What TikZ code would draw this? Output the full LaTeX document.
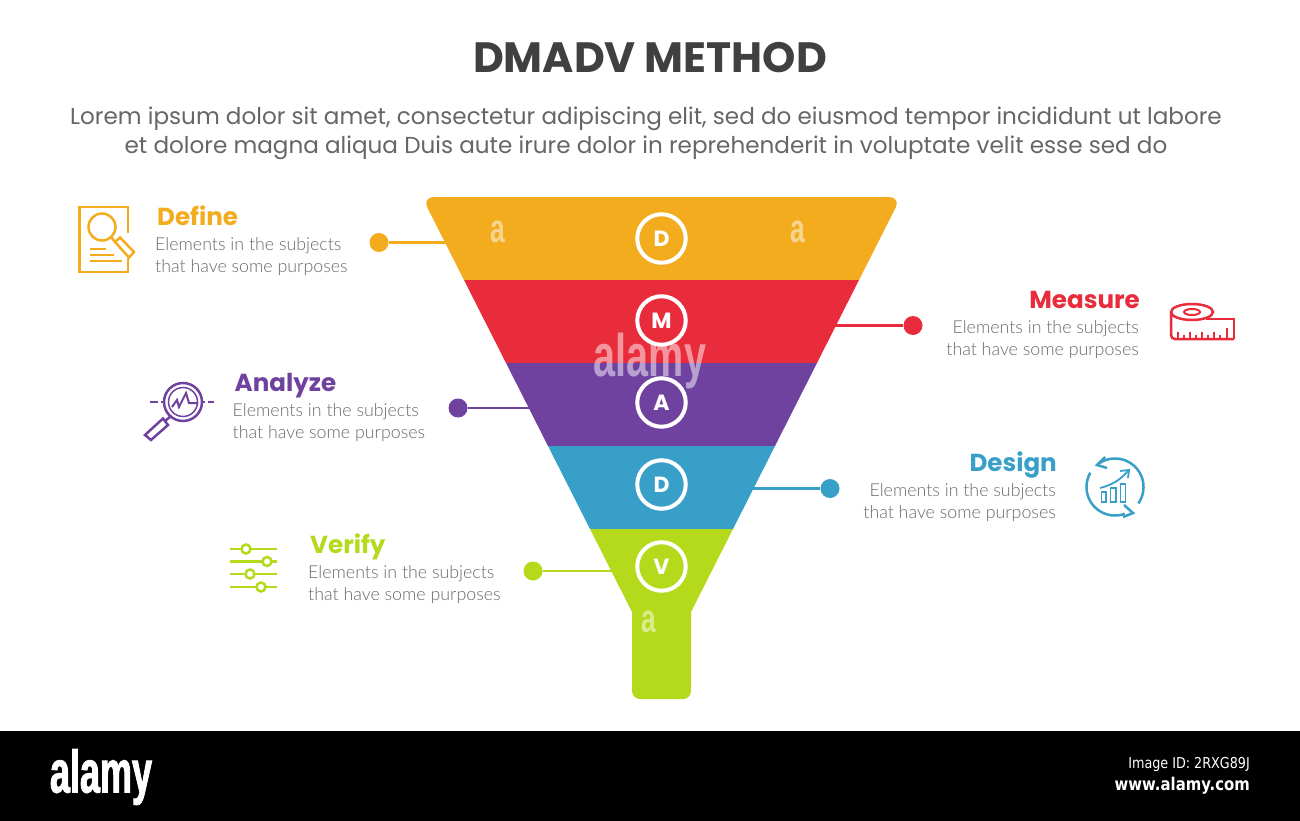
\documentclass[tikz,border=0pt]{standalone}
\usepackage{fontspec}
\usepackage{tikz}
\usetikzlibrary{positioning}
\setmainfont{Lato Light}
\newfontfamily\headfont{Poppins}
\newfontfamily\logofont[FakeStretch=0.6,FakeBold=1.5]{Liberation Sans}
\newfontfamily\markfont[FakeStretch=0.66]{Liberation Sans}
\newfontfamily\footfont[FakeStretch=0.85]{DejaVu Sans}
\definecolor{cdefine}{HTML}{F2AC1D}
\definecolor{cmeasure}{HTML}{E92C3B}
\definecolor{canalyze}{HTML}{6F42A0}
\definecolor{cdesign}{HTML}{389FC9}
\definecolor{cverify}{HTML}{B5D91B}
\definecolor{cdesc}{HTML}{6A6A6A}
\tikzstyle{lettercircle} = [circle, draw=white, line width=4pt, minimum size=48.5pt, inner sep=0pt, text=white, font=\headfont\bfseries\fontsize{22}{22}\selectfont]
\tikzstyle{dotnode} = [circle, minimum size=19pt, inner sep=0pt]
\tikzstyle{connector} = [line width=2.5pt]
\tikzstyle{headnode} = [inner sep=0pt, text height=17pt, text depth=5pt, font=\headfont\bfseries\fontsize{24.6}{24.6}\selectfont]
\tikzstyle{descnode} = [inner sep=0pt, text=cdesc, font=\fontsize{17.8}{22}\selectfont]
\tikzstyle{icon} = [line width=2.5pt]
\tikzstyle{stockmark} = [text=white, opacity=0.5, font=\markfont\bfseries\fontsize{40}{40}\selectfont]

\begin{document}
\begin{tikzpicture}[x=1pt, y=-1pt, node distance=29.5pt]
	\useasboundingbox (0,0) rectangle (1300,821);
	\fill[white] (0,0) rectangle (1300,821);
	\fill[black] (0,731) rectangle (1300,821);

	\node[text=black!75, font=\headfont\fontsize{42.4}{42.4}\selectfont\bfseries] (title) at (650,58) {DMADV METHOD};
	\node[align=center, text=black!60, font=\headfont\fontsize{23.1}{29}\selectfont] (intro) at (646,133.5) {Lorem ipsum dolor sit amet, consectetur adipiscing elit, sed do eiusmod tempor incididunt ut labore\\et dolore magna aliqua Duis aute irure dolor in reprehenderit in voluptate velit esse sed do};

	\node[dotnode, fill=cdefine]  (dot define)  at (379,242.5) {};
	\node[dotnode, fill=cmeasure] (dot measure) at (913,325.5) {};
	\node[dotnode, fill=canalyze] (dot analyze) at (458,408) {};
	\node[dotnode, fill=cdesign]  (dot design)  at (830,488.5) {};
	\node[dotnode, fill=cverify]  (dot verify)  at (533,571) {};
	\coordinate (edge define)  at (450,242.5);
	\coordinate (edge measure) at (830,325.5);
	\coordinate (edge analyze) at (535,408);
	\coordinate (edge design)  at (750,488.5);
	\coordinate (edge verify)  at (615,571);

	\draw[connector, cdefine]  (dot define)  -- (edge define);
	\draw[connector, cmeasure] (dot measure) -- (edge measure);
	\draw[connector, canalyze] (dot analyze) -- (edge analyze);
	\draw[connector, cdesign]  (dot design)  -- (edge design);
	\draw[connector, cverify]  (dot verify)  -- (edge verify);

	\fill[cdefine] (464,280) [rounded corners=12pt] -- (422,197) -- (901,197) [sharp corners] -- (859,280) -- cycle;
	\fill[cmeasure] (464,280) -- (859,280) -- (817,363) -- (506,363) -- cycle;
	\fill[canalyze] (506,363) -- (817,363) -- (775,446) -- (548,446) -- cycle;
	\fill[cdesign] (548,446) -- (775,446) -- (733,529) -- (590,529) -- cycle;
	\fill[cverify] (590,529) -- (632,612) [rounded corners=8pt] -- (632,699) -- (691,699) [sharp corners] -- (691,612) -- (733,529) -- cycle;

	\node[lettercircle]                    (letter d) at (661.5,238.5) {D};
	\node[lettercircle, below=of letter d] (letter m) {M};
	\node[lettercircle, below=of letter m] (letter a) {A};
	\node[lettercircle, below=of letter a] (letter e) {D};
	\node[lettercircle, below=of letter e] (letter v) {V};

	\node[headnode, text=cdefine, anchor=north west] (head define) at (157,208.5) {Define};
	\node[descnode, align=left, below=6.5pt of head define.south west, anchor=north west, xshift=-2pt] (desc define) {Elements in the subjects\\that have some purposes};
	\node[headnode, text=canalyze, anchor=north west] (head analyze) at (234.5,374.5) {Analyze};
	\node[descnode, align=left, below=6.5pt of head analyze.south west, anchor=north west, xshift=-2pt] (desc analyze) {Elements in the subjects\\that have some purposes};
	\node[headnode, text=cverify, anchor=north west] (head verify) at (310,536.5) {Verify};
	\node[descnode, align=left, below=6.5pt of head verify.south west, anchor=north west, xshift=-2pt] (desc verify) {Elements in the subjects\\that have some purposes};
	\node[headnode, text=cmeasure, anchor=north east] (head measure) at (1140,291.5) {Measure};
	\node[descnode, align=right, below=6.5pt of head measure.south east, anchor=north east, xshift=-1pt] (desc measure) {Elements in the subjects\\that have some purposes};
	\node[headnode, text=cdesign, anchor=north east] (head design) at (1057,454.5) {Design};
	\node[descnode, align=right, below=6.5pt of head design.south east, anchor=north east, xshift=-1pt] (desc design) {Elements in the subjects\\that have some purposes};

	% define icon
	\draw[icon, cdefine] (128,233) -- (128,207) -- (79.5,207) -- (79.5,272) -- (128,272) -- (128,258);
	\draw[icon, cdefine] (102,227) circle (13.5);
	\draw[icon, cdefine] (111,237) -- (115,242);
	\draw[icon, cdefine] (115,242) -- (120,237.5) -- (134,252) -- (129,257.5) -- cycle;
	\draw[icon, cdefine] (90,249) -- (106,249) (90,255) -- (114,255) (90,261) -- (122,261);

	% analyze icon
	\draw[icon, canalyze] (183,402) circle (19);
	\draw[line width=1.5pt, canalyze] (183,402) circle (14.5);
	\draw[icon, canalyze] (150,402) -- (158,402) (161,402) -- (164,402) (202,402) -- (205,402) (208,402) -- (214,402);
	\draw[line width=2pt, canalyze] (172,407) -- (177,400) -- (179,407) -- (186,393) -- (189,403) -- (198,403);
	\draw[icon, canalyze] (171,416) -- (165,421);
	\draw[icon, canalyze] (145,435) -- (151,440) -- (168,425) -- (163,418.5) -- cycle;

	% verify icon
	\draw[icon, cverify] (229.5,549) -- (276.5,549) (229.5,561.5) -- (276.5,561.5) (229.5,574) -- (276.5,574) (229.5,587) -- (276.5,587);
	\draw[icon, cverify, fill=white] (246,549) circle (4.5);
	\draw[icon, cverify, fill=white] (267,561.5) circle (4.5);
	\draw[icon, cverify, fill=white] (250,574) circle (4.5);
	\draw[icon, cverify, fill=white] (261,587) circle (4.5);

	% measure icon
	\draw[icon, cmeasure] (1192,312) ellipse (21 and 8);
	\draw[line width=2pt, cmeasure] (1192,312) ellipse (8 and 3);
	\draw[icon, cmeasure, rounded corners=4pt] (1171,312) -- (1171,339) -- (1234,339);
	\draw[icon, cmeasure] (1234,339) -- (1234,319) -- (1206,319);
	\draw[line width=2pt, cmeasure] (1178,339) -- (1178,332) (1184,339) -- (1184,335) (1190,339) -- (1190,332) (1196,339) -- (1196,335) (1202,339) -- (1202,332) (1208,339) -- (1208,335) (1214,339) -- (1214,332) (1220,339) -- (1220,335) (1227,339) -- (1227,328);

	% design icon
	\draw[icon, cdesign, domain=128:-35, samples=40] plot ({1115+28.5*cos(\x)},{487-28.5*sin(\x)});
	\draw[icon, cdesign, domain=150:290, samples=40] plot ({1115+28.5*cos(\x)},{487-28.5*sin(\x)});
	\draw[icon, cdesign] (1105,457) -- (1097,465) -- (1107,468);
	\draw[icon, cdesign] (1124,505) -- (1133,513) -- (1123,517);
	\draw[line width=1.8pt, cdesign] (1101.5,492) rectangle (1106,502) (1110.5,488) rectangle (1116,502) (1120.5,484) rectangle (1125.5,502);
	\draw[line width=1.8pt, cdesign] (1100,488) .. controls (1112,485) and (1120,480) .. (1128,471);
	\draw[line width=1.8pt, cdesign] (1120,471) -- (1129,470) -- (1128,478);

	\node[stockmark, font=\markfont\bfseries\fontsize{60}{60}\selectfont] (mark centre) at (650,361) {alamy};
	\node[stockmark] (mark left)  at (498,232) {a};
	\node[stockmark] (mark right) at (798,232) {a};
	\node[stockmark] (mark neck)  at (649,622) {a};

	\node[text=white, font=\logofont\bfseries\fontsize{60}{60}\selectfont] (logo) at (101,777) {alamy};
	\node[anchor=east, inner sep=0pt, text=white, font=\footfont\fontsize{15}{15}\selectfont] (image id) at (1250,764) {Image ID: 2RXG89J};
	\node[anchor=east, inner sep=0pt, text=white, font=\footfont\bfseries\fontsize{17.5}{17.5}\selectfont] (website) at (1250,786) {www.alamy.com};
\end{tikzpicture}
\end{document}
